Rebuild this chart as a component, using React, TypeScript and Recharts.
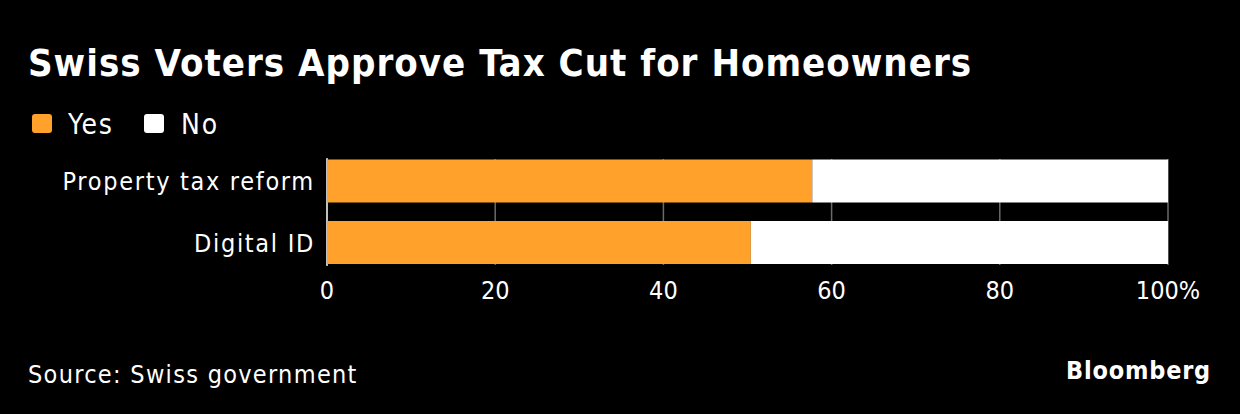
import React from "react";
import { BarChart, Bar, XAxis, YAxis, CartesianGrid } from "recharts";

// Referendum results, share of votes (%)
const categories = ["Property tax reform", "Digital ID"];
const yesShares = [57.7, 50.4];
const noShares = [42.3, 49.6];
const axisTicks = [0, 20, 40, 60, 80, 100];

const seriesNames = ["Yes", "No"];
const seriesColors = ["#ffa12b", "#ffffff"];

const FONT = "'DejaVu Sans Condensed', 'DejaVu Sans', sans-serif";

const data = categories.map((name, i) => ({
  name,
  yes: yesShares[i],
  no: noShares[i],
}));

const W = 1240;
const H = 414;

// legend item positions along the row
const legendSquareX = [32, 144];
const legendTextX = [68, 181];

export default function App() {
  return (
    <div
      style={{
        position: "absolute",
        left: 0,
        top: 0,
        width: W,
        height: H,
        background: "#000",
        overflow: "hidden",
        fontFamily: FONT,
        color: "#fff",
      }}
    >
      <div
        style={{
          position: "absolute",
          left: 28,
          top: 44,
          fontSize: 38,
          lineHeight: "38px",
          fontWeight: 700,
          letterSpacing: 1,
          whiteSpace: "nowrap",
        }}
      >
        Swiss Voters Approve Tax Cut for Homeowners
      </div>

      {/* legend */}
      {seriesNames.map((s, i) => (
        <React.Fragment key={s}>
          <div
            style={{
              position: "absolute",
              left: legendSquareX[i],
              top: 114,
              width: 20,
              height: 19,
              borderRadius: 3,
              background: seriesColors[i],
            }}
          />
          <div
            style={{
              position: "absolute",
              left: legendTextX[i],
              top: 111,
              fontSize: 28,
              lineHeight: "28px",
              letterSpacing: 1.8,
              whiteSpace: "nowrap",
            }}
          >
            {s}
          </div>
        </React.Fragment>
      ))}

      <div style={{ position: "absolute", left: 0, top: 0 }}>
        <BarChart
          width={W}
          height={H}
          data={data}
          layout="vertical"
          margin={{ top: 150.5, right: 72, bottom: 100.5, left: 27 }}
        >
          <CartesianGrid
            horizontal={false}
            stroke="#6a6a6a"
            strokeWidth={1.5}
            y={159}
            height={106}
          />
          <CartesianGrid
            horizontal={false}
            stroke="#e6e6e6"
            strokeWidth={1.5}
            y={158}
            height={108}
            verticalCoordinatesGenerator={({ offset }: any) => [offset.left]}
          />
          <XAxis
            type="number"
            domain={[0, 100]}
            ticks={axisTicks}
            tickFormatter={(v: number) => (v === 100 ? "100%" : String(v))}
            axisLine={false}
            tickLine={false}
            height={40}
            tickMargin={2}
            tick={{ fill: "#fff", fontSize: 25, fontFamily: FONT }}
            interval={0}
          />
          <YAxis
            type="category"
            dataKey="name"
            width={300}
            axisLine={false}
            tickLine={false}
            tickMargin={6}
            tick={{ fill: "#fff", fontSize: 25, fontFamily: FONT, letterSpacing: 1.7 }}
          />
          <Bar dataKey="yes" stackId="v" fill={seriesColors[0]} barSize={43} isAnimationActive={false} />
          <Bar dataKey="no" stackId="v" fill={seriesColors[1]} barSize={43} isAnimationActive={false} />
        </BarChart>
      </div>

      <div
        style={{
          position: "absolute",
          left: 28,
          top: 362,
          fontSize: 25,
          lineHeight: "25px",
          letterSpacing: 1.3,
          whiteSpace: "nowrap",
        }}
      >
        Source: Swiss government
      </div>
      <div
        style={{
          position: "absolute",
          right: 29,
          top: 358,
          fontSize: 25,
          lineHeight: "25px",
          fontWeight: 700,
          letterSpacing: 0.8,
          whiteSpace: "nowrap",
        }}
      >
        Bloomberg
      </div>
    </div>
  );
}
